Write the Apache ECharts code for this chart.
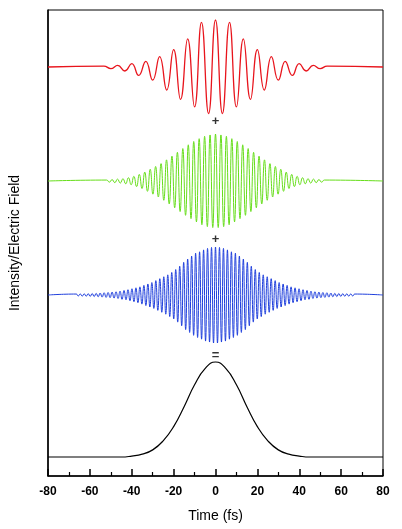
<!DOCTYPE html>
<html><head><meta charset="utf-8">
<script src="https://cdn.jsdelivr.net/npm/echarts@6/dist/echarts.min.js"></script>
<style>html,body{margin:0;padding:0;background:#fff}#c{width:402px;height:529px}</style>
</head><body><div id="c"></div>
<script>
// x ticks
const xTicks = [-80,-60,-40,-20,0,20,40,60,80];
// red field: extrema times (fs) and signed amplitudes (normalized)
const redT = [-53.3,-50,-46.7,-43.3,-40,-36.7,-33.3,-30,-26.7,-23.3,-20,-16.7,-13.3,-10,-6.7,-3.3,0,3.3,6.7,10,13.3,16.7,20,23.3,26.7,30,33.3,36.7,40,43.3,46.7,50,53.3];
const redA = [0.02,-0.035,0.035,-0.085,0.07,-0.18,0.12,-0.28,0.22,-0.49,0.37,-0.69,0.60,-0.85,0.95,-0.99,1.00,-0.99,0.95,-0.85,0.60,-0.69,0.37,-0.49,0.22,-0.28,0.12,-0.18,0.07,-0.085,0.035,-0.035,0.02];
// green field: half-cycle spacing and extremum magnitudes from -52 fs to +52 fs
const greenStep = 1.3;
const greenA = [0.02,0.025,0.03,0.035,0.04,0.045,0.05,0.06,0.07,0.08,0.10,0.12,0.14,0.16,0.19,0.22,0.25,0.28,0.31,0.34,0.37,0.41,0.45,0.49,0.53,0.57,0.61,0.65,0.69,0.73,0.77,0.80,0.84,0.87,0.90,0.93,0.95,0.97,0.98,0.99,
1.00,
0.99,0.98,0.97,0.95,0.93,0.90,0.87,0.84,0.80,0.77,0.73,0.69,0.65,0.61,0.57,0.53,0.49,0.45,0.41,0.37,0.34,0.31,0.28,0.25,0.22,0.19,0.16,0.14,0.12,0.10,0.08,0.07,0.06,0.05,0.045,0.04,0.035,0.03,0.025,0.02];
// blue field: half-cycle spacing and extremum magnitudes from -66.5 fs to +66.5 fs
const blueStep = 0.95;
const blueA = [0.02,0.021,0.022,0.023,0.024,0.025,0.027,0.029,0.031,0.033,0.035,0.038,0.041,0.044,0.047,0.05,0.052,0.055,0.06,0.065,0.07,0.075,0.08,0.09,0.095,0.10,0.11,0.12,0.13,0.14,0.15,0.16,0.17,0.19,0.20,0.22,0.23,0.25,0.26,0.28,0.30,0.32,0.34,0.36,0.38,0.40,0.42,0.45,0.47,0.50,0.53,0.565,0.60,0.64,0.68,0.72,0.75,0.78,0.81,0.84,0.87,0.885,0.90,0.92,0.94,0.96,0.97,0.98,0.99,1.00,
1.00,
1.00,0.99,0.98,0.97,0.96,0.94,0.92,0.90,0.885,0.87,0.84,0.81,0.78,0.75,0.72,0.68,0.64,0.60,0.565,0.53,0.50,0.47,0.45,0.42,0.40,0.38,0.36,0.34,0.32,0.30,0.28,0.26,0.25,0.23,0.22,0.20,0.19,0.17,0.16,0.15,0.14,0.13,0.12,0.11,0.10,0.095,0.09,0.08,0.075,0.07,0.065,0.06,0.055,0.052,0.05,0.047,0.044,0.041,0.038,0.035,0.033,0.031,0.029,0.027,0.025,0.024,0.023,0.022,0.021,0.02];
// intensity envelope
const intT = [-80,-45,-40,-35,-30,-25,-20,-15,-10,-5,0,5,10,15,20,25,30,35,40,45,80];
const intV = [0,0,0.01,0.03,0.075,0.17,0.32,0.53,0.76,0.93,1,0.93,0.76,0.53,0.32,0.17,0.075,0.03,0.01,0,0];

// vertical layout (styling)
const redBase=409, redAmp=47, greenBase=295, greenAmp=47, blueBase=181, blueAmp=48, intBase=19, intAmp=95;

function field(tArr, aArr, base, amp){
  const d=[[-80,base]];
  tArr.forEach((t,i)=>d.push([t, base+aArr[i]*amp]));
  d.push([80,base]); return d;
}
function carrier(step, aArr, base, amp){
  const n=(aArr.length-1)/2, t=[], a=[];
  aArr.forEach((v,i)=>{const k=i-n; t.push(k*step); a.push((k%2===0?1:-1)*v);});
  return field(t,a,base,amp);
}
const chart=echarts.init(document.getElementById('c'));
const lineS=(data,color,w)=>({type:'line',data,showSymbol:false,smooth:true,lineStyle:{color,width:w},silent:true,animation:false});
chart.setOption({
  animation:false,
  grid:{left:47,right:19,top:10,bottom:53,show:true,borderColor:'#000',borderWidth:1},
  xAxis:{type:'value',min:-80,max:80,interval:20,
    axisLine:{onZero:false,lineStyle:{color:'#000',width:1.5}},
    axisTick:{inside:true,length:7,lineStyle:{color:'#000',width:1.5}},
    minorTick:{show:true,splitNumber:2,length:4,lineStyle:{color:'#000',width:1.2}},
    splitLine:{show:false},
    axisLabel:{color:'#000',fontWeight:'bold',fontSize:12,fontFamily:'Liberation Sans',margin:10,
      formatter:v=>xTicks.includes(v)?String(v):''},
    name:'Time (fs)',nameLocation:'middle',nameGap:33,nameTextStyle:{fontSize:14,color:'#000',fontFamily:'Liberation Sans'}},
  yAxis:{type:'value',min:0,max:466,axisLine:{show:true,onZero:false,lineStyle:{color:'#000',width:1.5}},axisTick:{show:false},axisLabel:{show:false},splitLine:{show:false},
    name:'Intensity/Electric Field',nameLocation:'middle',nameGap:26,nameTextStyle:{fontSize:14,color:'#000',fontFamily:'Liberation Sans'}},
  series:[
    lineS(field(redT,redA,redBase,redAmp),'#e8141c',1.3),
    lineS(carrier(greenStep,greenA,greenBase,greenAmp),'#66dd1a',1),
    lineS(carrier(blueStep,blueA,blueBase,blueAmp),'#1f3fdc',1),
    lineS(intT.map((t,i)=>[t,intBase+intV[i]*intAmp]),'#000',1.2),
    {type:'scatter',symbolSize:0,silent:true,data:[[0,355,'+'],[0,237,'+'],[0,121,'=']],
     label:{show:true,position:'inside',formatter:p=>p.value[2],fontSize:13,fontWeight:'bold',color:'#000'}}
  ]
});
</script></body></html>
